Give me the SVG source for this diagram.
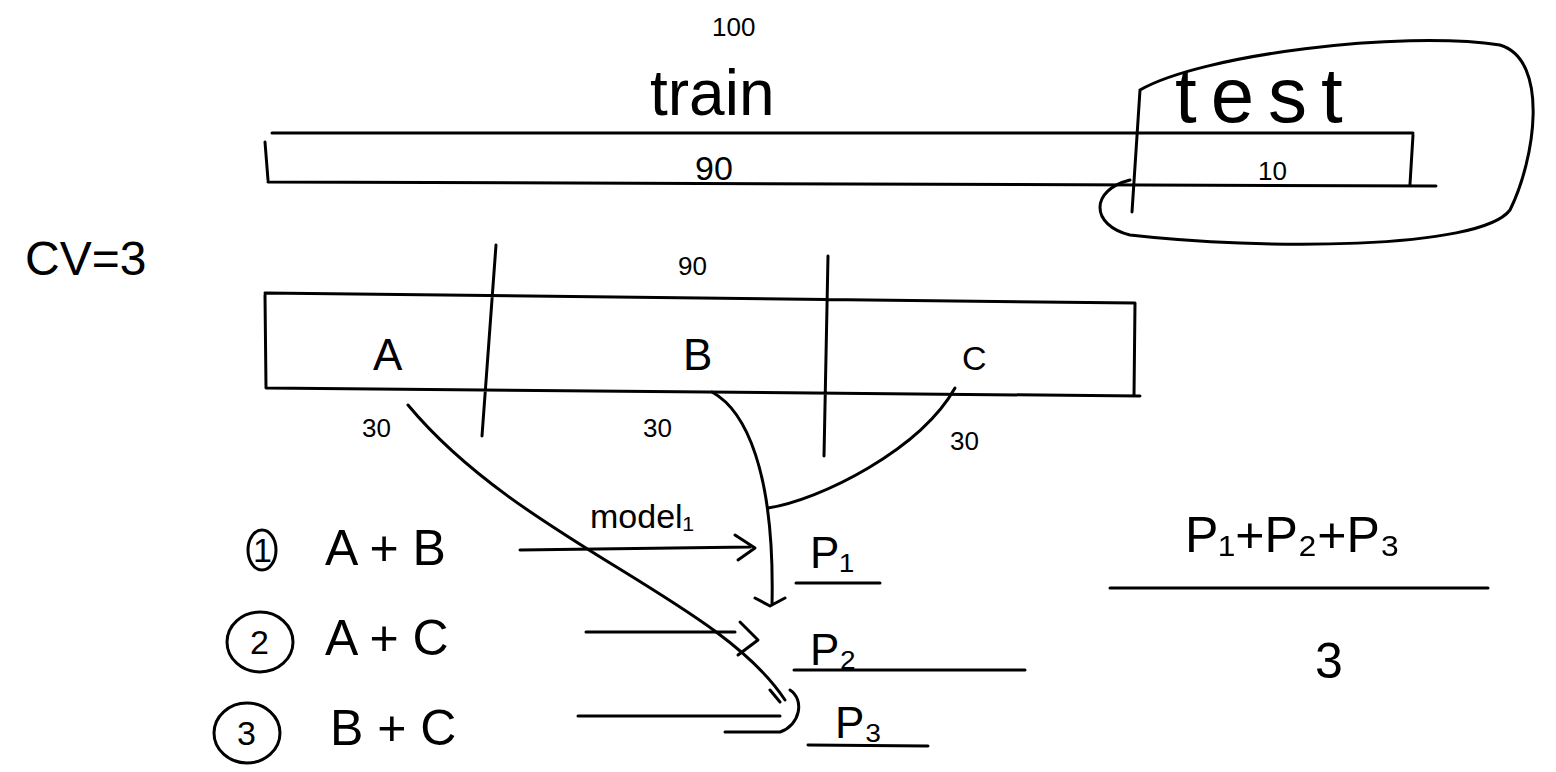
<svg xmlns="http://www.w3.org/2000/svg" width="1556" height="772" viewBox="0 0 1556 772">
<style>
.s{fill:none;stroke:#000;stroke-width:3;stroke-linecap:round;stroke-linejoin:round}
text{font-family:"Liberation Sans",Arial,sans-serif;fill:#000}
.b{font-size:44px}.m{font-size:34px}.sm{font-size:26px}
</style>
<rect width="1556" height="772" fill="#fff"/>
<g id="labels-top">
<text class="sm" x="712" y="36">100</text>
<text x="650" y="115" style="font-size:64px">train</text>
<text x="1175" y="122" style="font-size:78px;letter-spacing:14px">test</text>
<text class="m" x="695" y="180">90</text>
<text class="sm" x="1258" y="180">10</text>
<text x="25" y="275" style="font-size:48px">CV=3</text>
<text class="sm" x="678" y="275">90</text>
</g>
<g id="bar-top">
<path class="s" d="M272 133 L1413 133 M265 142 L268 180 M268 182 L1436 186 M1413 135 L1410 184"/>
</g>
<g id="test-circle">
<path class="s" d="M1140 90 C1200 55 1400 30 1500 45 C1550 60 1535 160 1510 210 C1480 250 1260 250 1130 235 C1090 225 1090 190 1130 180 M1140 90 L1132 212"/>
</g>
<g id="bar-folds">
<path class="s" d="M265 293 L1135 303 M265 295 L266 388 M266 388 L1140 396 M1135 303 L1134 396 M496 245 L482 436 M828 256 L824 456"/>
<text class="b" x="373" y="370">A</text>
<text class="b" x="683" y="370">B</text>
<text class="m" x="962" y="370">C</text>
<text class="sm" x="362" y="437">30</text>
<text class="sm" x="643" y="437">30</text>
<text class="sm" x="950" y="450">30</text>
</g>
<g id="rows">
<ellipse class="s" cx="262" cy="550" rx="14" ry="20"/>
<text class="m" x="253" y="562">1</text>
<ellipse class="s" cx="260" cy="642" rx="33" ry="30"/>
<text class="m" x="250" y="654">2</text>
<ellipse class="s" cx="247" cy="733" rx="33" ry="30"/>
<text class="m" x="237" y="745">3</text>
<text x="325" y="565" style="font-size:50px">A + B</text>
<text x="325" y="655" style="font-size:50px">A + C</text>
<text x="330" y="745" style="font-size:50px">B + C</text>
<text class="m" x="590" y="528">model₁</text>
<text class="b" x="810" y="568">P₁</text>
<text class="b" x="810" y="665">P₂</text>
<text class="b" x="835" y="738">P₃</text>
<text x="1185" y="552" style="font-size:50px">P₁+P₂+P₃</text>
<text x="1315" y="678" style="font-size:50px">3</text>
</g>
<g id="connectors">
<path class="s" d="M520 550 L750 547 M735 535 L755 548 L738 560"/>
<path class="s" d="M586 632 L735 632 M740 622 L758 640 L738 655"/>
<path class="s" d="M578 716 L780 716"/>
<path class="s" d="M408 405 C520 540 720 600 785 700 M770 690 L780 702"/>
<path class="s" d="M712 392 C745 410 775 470 772 605 M755 598 L770 606 L785 598"/>
<path class="s" d="M955 388 C920 450 820 500 768 508"/>
<path class="s" d="M796 583 L880 583 M794 670 L1025 670 M808 745 L928 746 M1110 588 L1488 588"/>
<path class="s" d="M790 690 C805 700 800 725 780 732 L725 732"/>
</g>
</svg>
